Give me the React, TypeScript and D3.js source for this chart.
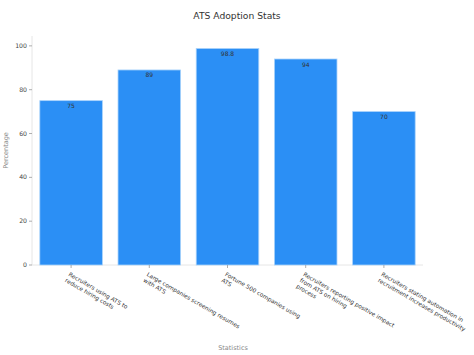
import React from "react";
import * as d3 from "d3";

const categories = [
  ["Recruiters using ATS to", "reduce hiring costs"],
  ["Large companies screening resumes", "with ATS"],
  ["Fortune 500 companies using", "ATS"],
  ["Recruiters reporting positive impact", "from ATS on hiring", "process"],
  ["Recruiters stating automation in", "recruitment increases productivity"],
];
const values = [75, 89, 98.8, 94, 70];
const valueLabels = ["75", "89", "98.8", "94", "70"];
const yTicks = [0, 20, 40, 60, 80, 100];

const W = 474;
const H = 355;
const margin = { left: 32, right: 51, top: 36, bottom: 90 };
const font = "DejaVu Sans, sans-serif";

export default function App() {
  const x = d3
    .scaleBand<number>()
    .domain(values.map((_, i) => i))
    .range([margin.left, W - margin.right])
    .paddingInner(0.2)
    .paddingOuter(0.1);

  const y = d3
    .scaleLinear()
    .domain([0, 104.5])
    .range([H - margin.bottom, margin.top]);

  const y0 = y(0);

  return (
    <svg
      width={W}
      height={H}
      style={{ position: "absolute", left: 0, top: 0, background: "#fff" }}
      fontFamily={font}
    >
      <text x={W / 2} y={19} textAnchor="middle" fontSize={9.2} fill="#333">
        ATS Adoption Stats
      </text>

      {/* axes */}
      <line x1={margin.left} x2={margin.left} y1={margin.top} y2={y0} stroke="#e6e6e6" strokeWidth={1} />
      <line x1={margin.left} x2={W - margin.right} y1={y0} y2={y0} stroke="#e6e6e6" strokeWidth={1} />

      {yTicks.map((t) => (
        <g key={t} transform={`translate(${margin.left},${y(t)})`}>
          <line x1={-3} x2={0} stroke="#999" strokeWidth={0.8} />
          <text x={-5} dy="0.32em" textAnchor="end" fontSize={6.2} fill="#444">
            {t}
          </text>
        </g>
      ))}

      {values.map((v, i) => (
        <g key={i}>
          <rect
            x={x(i)}
            y={y(v)}
            width={x.bandwidth()}
            height={y0 - y(v)}
            fill="#2b8ff5"
            stroke="#a8d2fb"
            strokeWidth={0.8}
          />
          <text
            x={(x(i) ?? 0) + x.bandwidth() / 2}
            y={y(v) + 7.5}
            textAnchor="middle"
            fontSize={6}
            fill="#333"
          >
            {valueLabels[i]}
          </text>
        </g>
      ))}

      {categories.map((lines, i) => {
        const cx = (x(i) ?? 0) + x.bandwidth() / 2;
        return (
          <g key={i} transform={`translate(${cx},${y0})`}>
            <line y1={0} y2={3} stroke="#999" strokeWidth={0.8} />
            <text transform="translate(-1,7) rotate(30)" fontSize={5.8} fill="#333">
              {lines.map((l, j) => (
                <tspan key={j} x={0} dy={j === 0 ? "0.7em" : "1.2em"}>
                  {l}
                </tspan>
              ))}
            </text>
          </g>
        );
      })}

      <text x={233} y={350} textAnchor="middle" fontSize={6.5} fill="#888">
        Statistics
      </text>
      <text
        transform={`translate(8,${(margin.top + y0) / 2}) rotate(-90)`}
        textAnchor="middle"
        fontSize={6.5}
        fill="#888"
      >
        Percentage
      </text>
    </svg>
  );
}
